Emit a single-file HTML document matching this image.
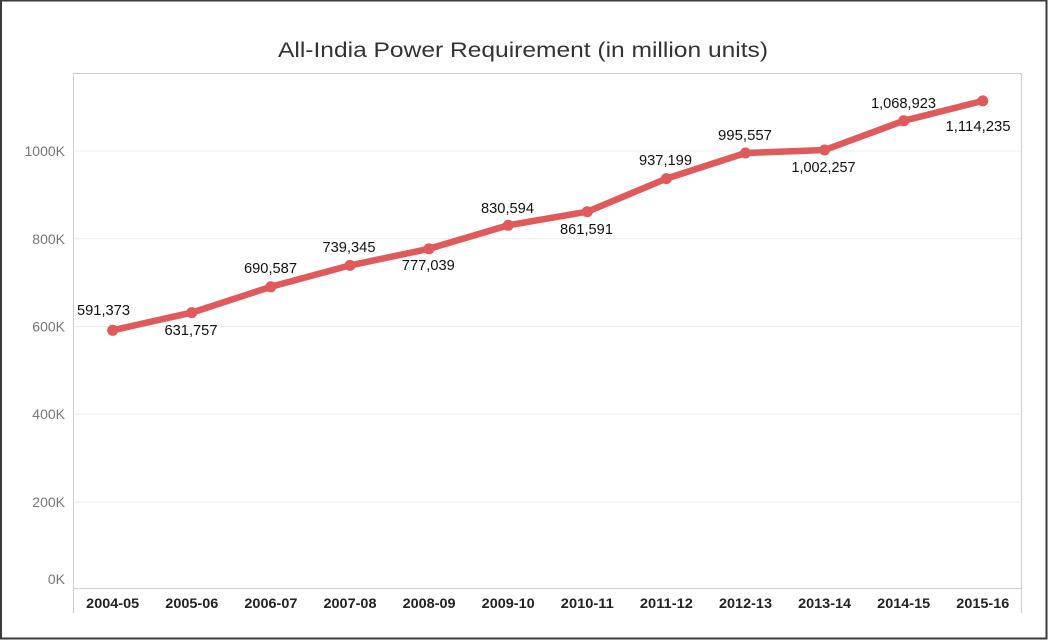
<!DOCTYPE html>
<html><head><meta charset="utf-8"><style>
html,body{margin:0;padding:0;background:#fff;}
svg{display:block;}
text{font-family:"Liberation Sans",Arial,sans-serif;}
</style></head><body>
<svg width="1048" height="640" viewBox="0 0 1048 640" xmlns="http://www.w3.org/2000/svg">
<rect x="0" y="0" width="1048" height="640" fill="#fff"/>
<rect x="1" y="0.5" width="1045.5" height="638" fill="none" stroke="#3a3a3a" stroke-width="2"/>
<text x="523" y="57" text-anchor="middle" font-size="21" fill="#333" textLength="490" lengthAdjust="spacingAndGlyphs">All-India Power Requirement (in million units)</text>
<g stroke="#eeeeee" stroke-width="1">
<line x1="73" y1="151" x2="1021" y2="151"/>
<line x1="73" y1="238.75" x2="1021" y2="238.75"/>
<line x1="73" y1="326.5" x2="1021" y2="326.5"/>
<line x1="73" y1="414.25" x2="1021" y2="414.25"/>
<line x1="73" y1="502" x2="1021" y2="502"/>
</g>
<g stroke="#cfcfcf" stroke-width="1" fill="none">
<line x1="73.5" y1="73" x2="73.5" y2="613"/>
<line x1="1021.5" y1="73" x2="1021.5" y2="613"/>
<line x1="73" y1="73.5" x2="1021.5" y2="73.5"/>
<line x1="73" y1="588.5" x2="1021.5" y2="588.5"/>
</g>
<g font-size="14" fill="#777" text-anchor="end">
<text x="65" y="156">1000K</text>
<text x="65" y="244">800K</text>
<text x="65" y="331.5">600K</text>
<text x="65" y="419">400K</text>
<text x="65" y="507">200K</text>
<text x="65" y="584">0K</text>
</g>
<g font-size="14" font-weight="bold" fill="#222" text-anchor="middle">
<text x="112.7" y="608" textLength="53" lengthAdjust="spacingAndGlyphs">2004-05</text>
<text x="191.8" y="608" textLength="53" lengthAdjust="spacingAndGlyphs">2005-06</text>
<text x="270.9" y="608" textLength="53" lengthAdjust="spacingAndGlyphs">2006-07</text>
<text x="350" y="608" textLength="53" lengthAdjust="spacingAndGlyphs">2007-08</text>
<text x="429.1" y="608" textLength="53" lengthAdjust="spacingAndGlyphs">2008-09</text>
<text x="508.2" y="608" textLength="53" lengthAdjust="spacingAndGlyphs">2009-10</text>
<text x="587.3" y="608" textLength="53" lengthAdjust="spacingAndGlyphs">2010-11</text>
<text x="666.4" y="608" textLength="53" lengthAdjust="spacingAndGlyphs">2011-12</text>
<text x="745.5" y="608" textLength="53" lengthAdjust="spacingAndGlyphs">2012-13</text>
<text x="824.6" y="608" textLength="53" lengthAdjust="spacingAndGlyphs">2013-14</text>
<text x="903.7" y="608" textLength="53" lengthAdjust="spacingAndGlyphs">2014-15</text>
<text x="982.8" y="608" textLength="53" lengthAdjust="spacingAndGlyphs">2015-16</text>
</g>
<polyline fill="none" stroke="#e05a5c" stroke-width="6.5" stroke-linejoin="round" stroke-linecap="round"
points="112.7,330.3 191.8,312.6 270.9,286.8 350,265.4 429.1,248.8 508.2,225.3 587.3,211.7 666.4,178.6 745.5,153 824.6,150 903.7,120.8 982.8,100.9"/>
<g fill="#e05a5c">
<circle cx="112.7" cy="330.3" r="5.5"/>
<circle cx="191.8" cy="312.6" r="5.5"/>
<circle cx="270.9" cy="286.8" r="5.5"/>
<circle cx="350" cy="265.4" r="5.5"/>
<circle cx="429.1" cy="248.8" r="5.5"/>
<circle cx="508.2" cy="225.3" r="5.5"/>
<circle cx="587.3" cy="211.7" r="5.5"/>
<circle cx="666.4" cy="178.6" r="5.5"/>
<circle cx="745.5" cy="153" r="5.5"/>
<circle cx="824.6" cy="150" r="5.5"/>
<circle cx="903.7" cy="120.8" r="5.5"/>
<circle cx="982.8" cy="100.9" r="5.5"/>
</g>
<g font-size="14.5" fill="#111" text-anchor="middle">
<text x="103.5" y="315" textLength="53" lengthAdjust="spacingAndGlyphs">591,373</text>
<text x="191" y="335" textLength="53" lengthAdjust="spacingAndGlyphs">631,757</text>
<text x="270.5" y="273" textLength="53" lengthAdjust="spacingAndGlyphs">690,587</text>
<text x="349" y="252" textLength="53" lengthAdjust="spacingAndGlyphs">739,345</text>
<text x="428.3" y="270" textLength="53" lengthAdjust="spacingAndGlyphs">777,039</text>
<text x="507.5" y="213" textLength="53" lengthAdjust="spacingAndGlyphs">830,594</text>
<text x="586.5" y="234" textLength="53" lengthAdjust="spacingAndGlyphs">861,591</text>
<text x="665.5" y="165" textLength="53" lengthAdjust="spacingAndGlyphs">937,199</text>
<text x="745" y="140" textLength="54" lengthAdjust="spacingAndGlyphs">995,557</text>
<text x="823.5" y="172" textLength="64" lengthAdjust="spacingAndGlyphs">1,002,257</text>
<text x="903.5" y="108" textLength="65" lengthAdjust="spacingAndGlyphs">1,068,923</text>
<text x="978" y="131" textLength="65" lengthAdjust="spacingAndGlyphs">1,114,235</text>
</g>
</svg>
</body></html>
